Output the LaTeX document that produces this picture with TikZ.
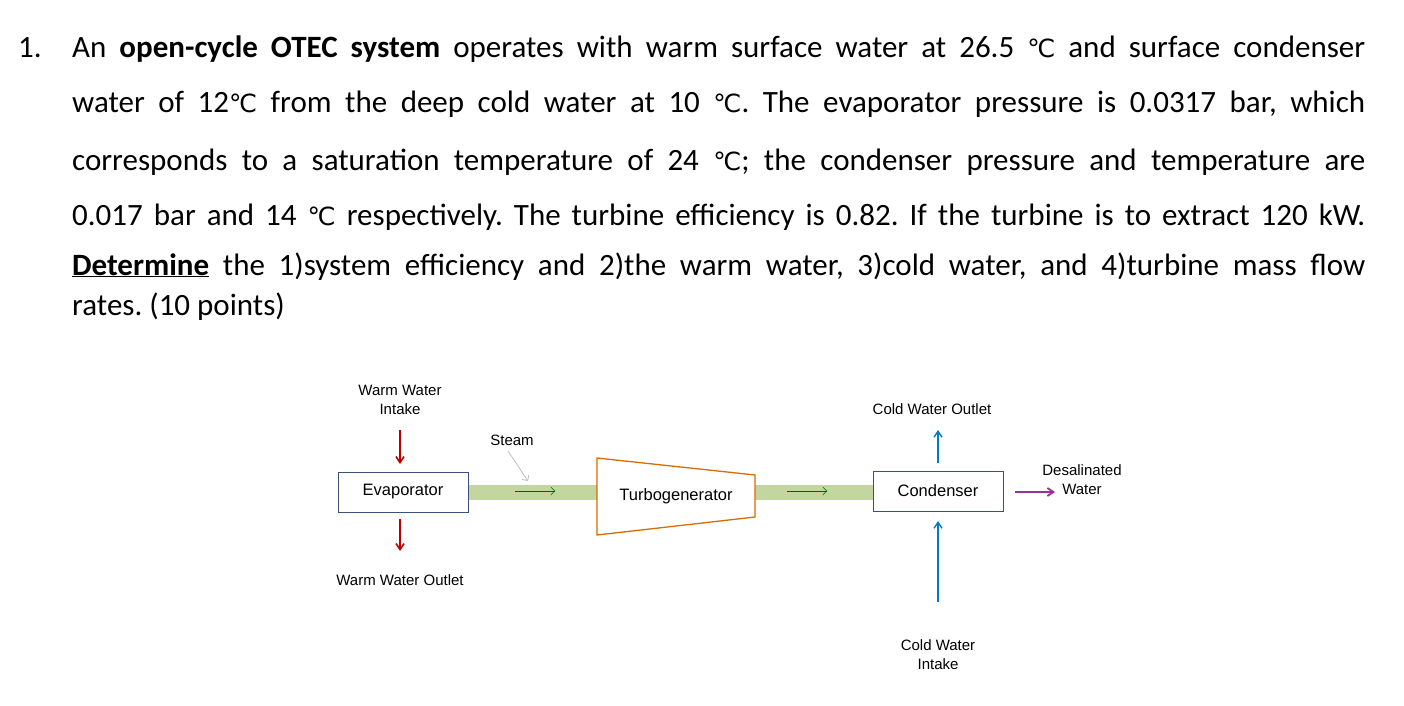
\documentclass[tikz,border=0pt]{standalone}
\usepackage{fontspec}
\usetikzlibrary{arrows.meta}
\setmainfont{Carlito}
\newfontfamily\diag{Liberation Sans}
\newfontfamily\djv{DejaVu Sans}
\newcommand{\degc}{{\djv\fontsize{25}{30}\selectfont ℃}}
\definecolor{pipe}{RGB}{196,214,160}
\definecolor{boxc}{RGB}{60,80,120}
\frenchspacing
\begin{document}
\begin{tikzpicture}[x=1pt,y=-1pt,
 line/.style={anchor=base west,inner sep=0pt,font=\fontsize{31}{34}\selectfont},
 lbl/.style={font=\diag\fontsize{15}{19}\selectfont,align=center,inner sep=0pt},
 box/.style={draw=boxc,line width=1pt,fill=white,minimum width=130pt,minimum height=40pt,font=\diag\fontsize{16.5}{19}\selectfont},
 red/.style={draw=red!75!black,line width=1.6pt,-{Straight Barb[length=6pt,width=8pt]}},
 blu/.style={draw=blue!40!cyan!80!black,line width=1.4pt,-{Straight Barb[length=6pt,width=8pt]}}]
\useasboundingbox (0,0) rectangle (1404,706);
\node[line] (n) at (18,58) {1.};
\node[line] (l1) at (72,58) {\makebox[1293pt][s]{An \textbf{open-cycle OTEC system} operates with warm surface water at 26.5 \degc{} and surface condenser}};
\node[line] (l2) at (72,113) {\makebox[1293pt][s]{water of 12\degc{} from the deep cold water at 10 \degc. The evaporator pressure is 0.0317 bar, which}};
\node[line] (l3) at (72,170) {\makebox[1293pt][s]{corresponds to a saturation temperature of 24 \degc; the condenser pressure and temperature are}};
\node[line] (l4) at (72,225) {\makebox[1293pt][s]{0.017 bar and 14 \degc{} respectively. The turbine efficiency is 0.82. If the turbine is to extract 120 kW.}};
\node[line] (l5) at (72,275) {\makebox[1293pt][s]{\underline{\textbf{Determine}} the 1)system efficiency and 2)the warm water, 3)cold water, and 4)turbine mass flow}};
\node[line] (l6) at (72,315) {rates. (10 points)};
% pipe
\fill[pipe] (468,485) rectangle (875,500);
\node[box] (ev) at (403,492) {Evaporator};
\node[box] (co) at (938,491) {Condenser};
\draw[orange!85!black,line width=1.3pt,fill=white] (597,458) -- (755,475) -- (755,517) -- (597,535) -- cycle;
\node[font=\diag\fontsize{16.5}{19}\selectfont] (tg) at (676,496) {Turbogenerator};
\draw[green!40!black,-{Straight Barb[length=4pt]}] (515,491) -- (555,491);
\draw[green!40!black,-{Straight Barb[length=4pt]}] (787,491) -- (827,491);
\node[lbl] (wwi) at (400,400) {Warm Water\\Intake};
\node[lbl] (wwo) at (400,580) {Warm Water Outlet};
\node[lbl] (cwo) at (932,409) {Cold Water Outlet};
\node[lbl] (cwi) at (938,655) {Cold Water\\Intake};
\node[lbl] (dw) at (1082,480) {Desalinated\\Water};
\node[lbl] (st) at (512,440) {Steam};
\coordinate (s1) at (508,451); \coordinate (s2) at (528,481);
\draw[gray!50,line width=0.8pt,-{Straight Barb[length=4pt]}] (s1) -- (s2);
\coordinate (a1) at (400,430); \coordinate (a1e) at (400,464); \draw[red] (a1) -- (a1e);
\coordinate (a2) at (400,519); \coordinate (a2e) at (400,551); \draw[red] (a2) -- (a2e);
\coordinate (b1) at (938,463); \coordinate (b1e) at (938,430); \draw[blu] (b1) -- (b1e);
\coordinate (b2) at (938,602); \coordinate (b2e) at (938,521); \draw[blu] (b2) -- (b2e);
\coordinate (p1) at (1015,492); \coordinate (p2) at (1055,492);
\draw[violet!80,line width=1.8pt,-{Straight Barb[length=6pt,width=8pt]}] (p1) -- (p2);
\end{tikzpicture}
\end{document}
